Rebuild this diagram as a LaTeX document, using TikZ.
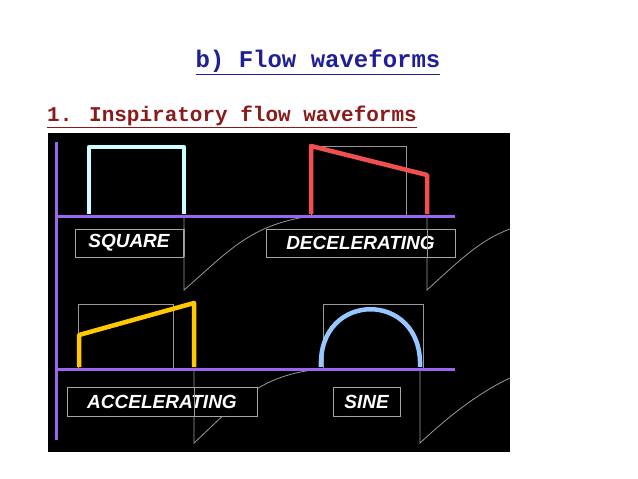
\documentclass[tikz,border=0pt]{standalone}
\usepackage{fontspec}
\setmainfont{Liberation Sans}
\newfontfamily\monob{Liberation Mono}
\begin{document}
\begin{tikzpicture}[x=1pt,y=-1pt,
  lbl/.style={draw=gray!70,line width=0.6pt,fill=black,text=white,font=\bfseries\itshape\fontsize{19}{20}\selectfont,inner sep=0pt,anchor=center},
  thin/.style={draw=gray!80,line width=0.8pt},
  axis/.style={draw=violet!60!blue!80!white,line width=3pt},
  wave/.style={line width=4.5pt,line join=round}]
\definecolor{axc}{HTML}{9966EE}
\definecolor{ttl}{HTML}{1F1F99}
\definecolor{sub}{HTML}{8B1A1A}
\useasboundingbox (0,0) rectangle (638,479);
\fill[white] (0,0) rectangle (638,479);
\node[text=ttl,font=\monob\bfseries\fontsize{24}{26}\selectfont] (t) at (318,62) {\underline{b) Flow waveforms}};
\node[text=sub,font=\monob\bfseries\fontsize{21}{24}\selectfont,anchor=west,inner sep=0pt] (s) at (47,117) {\underline{1. Inspiratory flow waveforms}};
\fill[black] (48,133) rectangle (510,452);
% gray boxes
\draw[thin] (311,146) rectangle (406,216);
\draw[thin] (78,304) rectangle (173,369);
\draw[thin] (323,304) rectangle (423,369);
% pressure curves
\draw[thin] (184,216) -- (184,290) .. controls (230,250) and (250,225) .. (311,216);
\draw[thin] (427,216) -- (427,290) .. controls (460,260) and (480,240) .. (510,229);
\draw[thin] (194,369) -- (194,443) .. controls (240,400) and (260,375) .. (321,369);
\draw[thin] (420,369) -- (420,443) .. controls (450,415) and (480,392) .. (510,378);
% axes
\draw[draw=axc,line width=3pt] (56,142) -- (56,440);
\draw[draw=axc,line width=3pt] (58,216) -- (455,216);
\draw[draw=axc,line width=3pt] (58,369) -- (455,369);
% waves
\draw[wave,color={rgb,255:red,204;green,255;blue,255}] (89,214) -- (89,147) -- (184,147) -- (184,214);
\draw[wave,color={rgb,255:red,240;green,80;blue,80}] (311,214) -- (311,146) -- (427,175) -- (427,214);
\draw[wave,color={rgb,255:red,255;green,200;blue,0}] (79,367) -- (79,335) -- (194,303) -- (194,367);
\draw[wave,color={rgb,255:red,150;green,200;blue,255}] (321,367) .. controls (318,290) and (423,290) .. (420,367);
% labels
\node[lbl,minimum width=108pt,minimum height=28pt] (sq) at (129,243) {SQUARE};
\node[lbl,minimum width=189pt,minimum height=28pt] (de) at (360.5,243) {DECELERATING};
\node[lbl,minimum width=190pt,minimum height=29pt] (ac) at (162,401.5) {ACCELERATING};
\node[lbl,minimum width=67pt,minimum height=29pt] (si) at (366.5,401.5) {SINE};
% curves crossing labels
\draw[thin] (184,229) -- (184,257);
\draw[thin] (427,229) -- (427,257);
\draw[thin] (194,387) -- (194,416);
\end{tikzpicture}
\end{document}
